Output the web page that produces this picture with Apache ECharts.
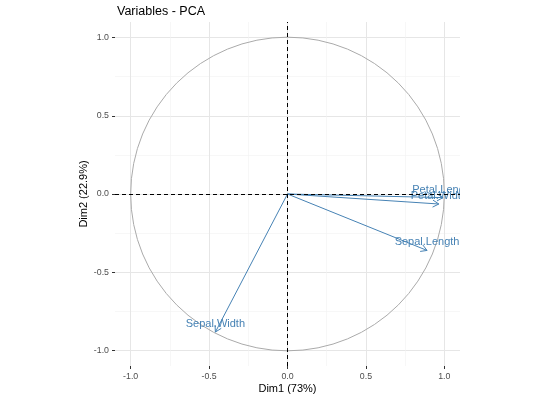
<!DOCTYPE html>
<html>
<head>
<meta charset="utf-8">
<script src="https://cdn.jsdelivr.net/npm/echarts@6/dist/echarts.min.js"></script>
<style>
  html, body { margin: 0; padding: 0; background: #fff; }
  #main { width: 540px; height: 400px; }
</style>
</head>
<body>
<div id="main"></div>
<script>
// variable coordinates on the first two dimensions
const variables = ['Sepal.Length', 'Sepal.Width', 'Petal.Length', 'Petal.Width'];
const dim1 = [0.890, -0.460, 0.992, 0.965];
const dim2 = [-0.361, -0.883, -0.023, -0.064];
const tickValues = [-1, -0.5, 0, 0.5, 1];
const circleRadius = 1;

const FONT = 'Liberation Sans';
const BLUE = '#4682B4';

const chartDom = document.getElementById('main');
const myChart = echarts.init(chartDom);

function valueAxis(name, isY) {
    return {
        type: 'value',
        min: -1.1,
        max: 1.1,
        name: name,
        nameLocation: 'middle',
        nameGap: isY ? 26 : 17,
        nameMoveOverlap: false,
        nameTextStyle: { fontFamily: FONT, fontSize: 11, color: '#000' },
        axisLine: { show: false, onZero: false },
        axisTick: {
            show: true,
            customValues: tickValues,
            length: 3,
            lineStyle: { color: '#333', width: 1 }
        },
        axisLabel: {
            customValues: tickValues,
            formatter: v => v.toFixed(1),
            fontFamily: FONT,
            fontSize: 8.8,
            color: '#4D4D4D',
            margin: isY ? 6 : 6
        },
        splitLine: {
            show: true,
            lineStyle: { color: '#E6E6E6', width: 1 }
        },
        minorTick: { show: false, splitNumber: 2 },
        minorSplitLine: {
            show: true,
            lineStyle: { color: '#F2F2F2', width: 0.6 }
        }
    };
}

const arrowData = variables.map((v, i) => [dim1[i], dim2[i], v]);

const option = {
    animation: false,
    title: {
        text: 'Variables - PCA',
        left: 117,
        top: 5,
        padding: 0,
        textStyle: { fontFamily: FONT, fontSize: 12.5, fontWeight: 'normal', color: '#000' }
    },
    grid: { left: 115, right: 80, top: 22, bottom: 34, outerBoundsMode: 'none', containLabel: false },
    xAxis: valueAxis('Dim1 (73%)', false),
    yAxis: valueAxis('Dim2 (22.9%)', true),
    series: [
        {
            // correlation circle
            type: 'custom',
            clip: true,
            silent: true,
            data: [[0, 0, circleRadius]],
            renderItem: function (params, api) {
                const c = api.coord([api.value(0), api.value(1)]);
                const r = api.coord([api.value(2), 0])[0] - c[0];
                return {
                    type: 'circle',
                    shape: { cx: c[0], cy: c[1], r: r },
                    style: { fill: 'none', stroke: '#AAAAAA', lineWidth: 1 }
                };
            },
            markLine: {
                silent: true,
                symbol: 'none',
                label: { show: false },
                lineStyle: { color: '#000', type: [4, 3], width: 1 },
                data: [{ xAxis: 0 }, { yAxis: 0 }]
            },
            z: 2
        },
        {
            // arrows and labels
            type: 'custom',
            clip: true,
            silent: true,
            data: arrowData,
            renderItem: function (params, api) {
                const p0 = api.coord([0, 0]);
                const p1 = api.coord([api.value(0), api.value(1)]);
                const a = Math.atan2(p1[1] - p0[1], p1[0] - p0[0]);
                const L = 7, w = Math.PI / 6;
                const h1 = [p1[0] - L * Math.cos(a - w), p1[1] - L * Math.sin(a - w)];
                const h2 = [p1[0] - L * Math.cos(a + w), p1[1] - L * Math.sin(a + w)];
                return {
                    type: 'group',
                    children: [
                        {
                            type: 'line',
                            shape: { x1: p0[0], y1: p0[1], x2: p1[0], y2: p1[1] },
                            style: { stroke: BLUE, lineWidth: 1 }
                        },
                        {
                            type: 'polyline',
                            shape: { points: [h1, p1, h2] },
                            style: { stroke: BLUE, lineWidth: 1, fill: 'none' }
                        },
                        {
                            type: 'text',
                            x: p1[0],
                            y: p1[1] - 8,
                            style: {
                                text: api.value(2),
                                fill: BLUE,
                                fontFamily: FONT,
                                fontSize: 11,
                                align: 'center',
                                verticalAlign: 'middle'
                            }
                        }
                    ]
                };
            },
            z: 3
        }
    ]
};

myChart.setOption(option);
</script>
</body>
</html>
